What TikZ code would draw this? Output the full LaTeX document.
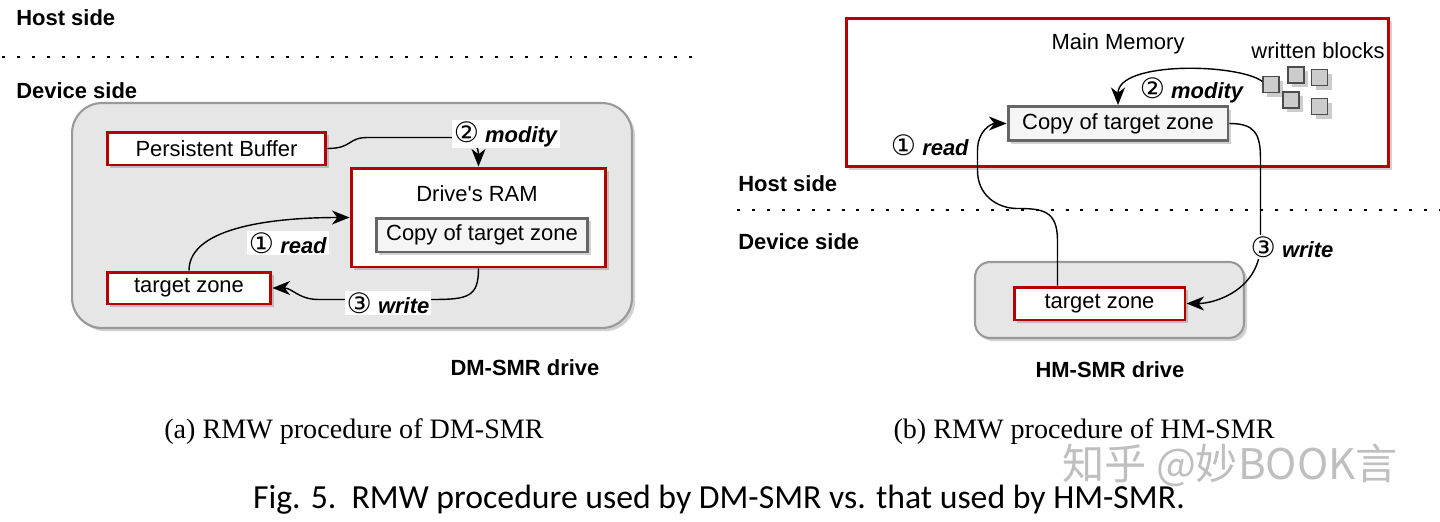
\documentclass[tikz,border=0pt]{standalone}
\usepackage{fontspec}
\setsansfont{Liberation Sans}
\newfontfamily\capfont{Liberation Serif}
\newfontfamily\figfont{Carlito}
\newfontfamily\symfont{DejaVu Sans}
\newfontfamily\cjkfont{Noto Sans CJK SC}
\usepackage{xcolor}
\usepackage{tikz}
\usetikzlibrary{calc,shadows,arrows.meta}

\definecolor{drvred}{RGB}{180,0,0}
\definecolor{drvgray}{RGB}{230,230,230}
\newcommand{\stepno}[2]{{\symfont\fontsize{16}{16}\selectfont #1}\ \textbf{\textit{#2}}}

\tikzset{
  diag/.style={font=\sffamily\fontsize{12.5}{14}\selectfont},
  boxshadow/.style={drop shadow={shadow xshift=1.8pt,shadow yshift=-1.8pt,fill=black,opacity=0.18}},
  redbox/.style={draw=drvred, line width=1.7pt, fill=white, inner sep=0pt, boxshadow},
  copybox/.style={draw=black!60, line width=1.7pt, fill=black!4, inner sep=0pt,
    minimum height=0.68cm, boxshadow},
  drivebox/.style={draw=black!40, line width=1.2pt, fill=drvgray, inner sep=0pt, boxshadow},
  blockbox/.style={draw=black!70, line width=1pt, fill=black!20, inner sep=0pt,
    minimum size=0.32cm, drop shadow={shadow xshift=2.5pt,shadow yshift=-2.5pt,fill=black,opacity=0.2}},
  steplbl/.style={fill=white, inner sep=1pt},
  sidelbl/.style={font=\sffamily\bfseries\fontsize{12.5}{14}\selectfont, anchor=west, inner sep=0pt},
  dotline/.style={line width=1.7pt, dash pattern=on 1.7pt off 6.8pt},
  flow/.style={-{Stealth[length=10pt,width=8pt,inset=3pt]}, line width=0.8pt},
}

\begin{document}
\begin{tikzpicture}[x=0.02cm, y=-0.02cm, diag]
  \useasboundingbox (0,0) rectangle (1440,521);
  % ---------- (a) DM-SMR: host / device split ----------
  \node[sidelbl] (hostL) at (16,18) {Host side};
  \draw[dotline] (2,57) -- (695,57);
  \node[sidelbl] (devL) at (16,91) {Device side};
  % the drive
  \node[drivebox, rounded corners=0.6cm, minimum width=11.2cm, minimum height=4.5cm] (dmL) at (352,215.5) {};
  \node[redbox, minimum width=4.38cm, minimum height=0.66cm] (pbufL) at (216.5,148.5) {Persistent Buffer};
  \node[redbox, minimum width=5.1cm, minimum height=1.98cm] (ramL) at (478.5,217.5) {};
  \node[inner sep=0pt] (ramlblL) at (477,194) {Drive\textquotesingle s RAM};
  \node[copybox, minimum width=4.24cm] (copyL) at (482,235) {Copy of target zone};
  \node[redbox, minimum width=3.28cm, minimum height=0.64cm] (tzL) at (189,288) {target zone};
  % flows
  \draw[flow] (pbufL.east) .. controls +(25,0) and +(-20,0) .. ++(40,-11) -- ++(88,0)
    .. controls +(20,0) and +(0,-18) .. (ramL.north);
  \draw[flow] (tzL.north) .. controls +(0,-45) and +(-70,0) .. (ramL.west);
  \draw[flow] (ramL.south) .. controls +(0,28) and +(35,0) .. ++(-45,31) -- ++(-115,0)
    .. controls +(-20,0) and +(20,0) .. (tzL.east);
  \node[steplbl] (modL) at (506,134) {\stepno{②}{modity}};
  \node[steplbl] (readL) at (288,243) {\stepno{①}{read}};
  \node[steplbl] (writeL) at (388,303) {\stepno{③}{write}};
  \node[font=\sffamily\bfseries\fontsize{12.5}{14}\selectfont] (dmlbl) at (525,368) {DM-SMR drive};
  \node[font=\capfont\fontsize{16}{19}\selectfont] (capA) at (354,432) {(a) RMW procedure of DM-SMR};
  % ---------- (b) HM-SMR: host side holds the copy ----------
  \node[redbox, minimum width=10.86cm, minimum height=2.98cm] (memR) at (1117.5,92.5) {};
  \node[inner sep=0pt] (memlblR) at (1118,44) {Main Memory};
  \node[inner sep=0pt] (blkslbl) at (1318,51) {written blocks};
  \foreach \n/\p in {1/{(1271,84.5)},2/{(1296,75)},3/{(1319.5,77.5)},4/{(1291,100)},5/{(1319.5,106.5)}}
    \node[blockbox] (sq\n) at \p {};
  \node[copybox, minimum width=4.4cm] (copyR) at (1118,123.5) {Copy of target zone};
  \node[sidelbl] (hostR) at (738,184) {Host side};
  \draw[dotline] (737,210) -- (1440,210);
  \node[sidelbl] (devR) at (738,242) {Device side};
  \node[drivebox, rounded corners=0.3cm, minimum width=5.38cm, minimum height=1.52cm] (hmR) at (1109.5,300) {};
  \node[redbox, minimum width=3.42cm, minimum height=0.66cm] (tzR) at (1099.5,303.5) {target zone};
  % flows
  \draw[flow] (sq1.160) .. controls +(-25,-18) and +(0,-44) .. (copyR.north);
  \draw[flow] ($(tzR.north)+(-42,0)$) -- ++(0,-45) .. controls +(0,-30) and +(25,0) .. ++(-40,-32)
    .. controls +(-20,0) and +(0,25) .. ++(-40,-38) -- ++(0,-20)
    .. controls +(0,-20) and +(-15,0) .. (copyR.west);
  \draw[flow] (copyR.east) .. controls +(25,0) and +(0,-25) .. ++(31,35) -- ++(0,85)
    .. controls +(0,45) and +(30,0) .. (tzR.east);
  \node[steplbl] (modR) at (1192,90) {\stepno{②}{modity}};
  \node[steplbl] (readR) at (930,145) {\stepno{①}{read}};
  \node[steplbl] (writeR) at (1292,247) {\stepno{③}{write}};
  \node[font=\sffamily\bfseries\fontsize{12.5}{14}\selectfont] (hmlbl) at (1110,370) {HM-SMR drive};
  \node[font=\capfont\fontsize{16}{19}\selectfont] (capB) at (1084,432) {(b) RMW procedure of HM-SMR};
  % ---------- figure caption ----------
  \node[text=black!25, font=\cjkfont\fontsize{24}{26}\selectfont] (mark) at (1230,465) {知乎 @妙BOOK言};
  \node[font=\figfont\fontsize{19.2}{22}\selectfont] (figcap) at (719,500) {Fig. 5.\ \ RMW procedure used by DM-SMR vs. that used by HM-SMR.};
\end{tikzpicture}
\end{document}
